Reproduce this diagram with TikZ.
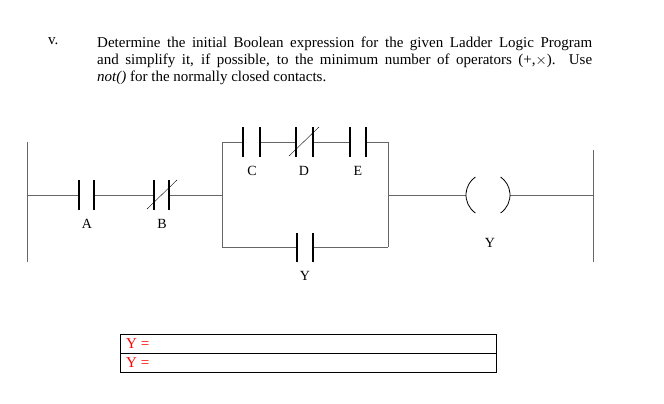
\documentclass[tikz,border=0pt]{standalone}
\usepackage{fontspec}
\setmainfont{Liberation Serif}
\begin{document}
\begin{tikzpicture}[x=1pt,y=-1pt,
  wire/.style={draw=gray!80!black,line width=1pt},
  plate/.style={draw=black,line width=2pt},
  lbl/.style={font=\fontsize{14}{16}\selectfont,inner sep=0pt}]
\useasboundingbox (0,0) rectangle (664,404);
\node[anchor=north west,inner sep=0pt,font=\fontsize{15}{17}\selectfont] (num) at (48,37) {v.};
\node[anchor=north west,inner sep=0pt,text width=495pt,align=justify,font=\fontsize{15}{17}\selectfont] (txt) at (97,37)
 {Determine the initial Boolean expression for the given Ladder Logic Program\linebreak and simplify it, if possible, to the minimum number of operators (+,$\times$). Use\linebreak \textit{not()} for the normally closed contacts.};
% rails
\coordinate (L1) at (27,142); \coordinate (L2) at (27,262);
\coordinate (R1) at (593,150); \coordinate (R2) at (593,262);
\draw[wire] (L1)--(L2); \draw[wire] (R1)--(R2);
% main line
\coordinate (m0) at (27,195); \coordinate (a1) at (79,195); \coordinate (a2) at (94,195);
\coordinate (b1) at (154,195); \coordinate (b2) at (169,195);
\coordinate (jl) at (222,195); \coordinate (jr) at (388,195);
\coordinate (k1) at (466,195); \coordinate (k2) at (510,195);
\draw[wire] (m0)--(a1) (a2)--(b1) (b2)--(jl) (jr)--(k1) (k2)--(593,195);
\draw[plate] (79,180)--(79,210) (94,180)--(94,210) (154,180)--(154,210) (169,180)--(169,210);
\draw[thin] (147,209)--(177,180);
% branch
\coordinate (tl) at (222,142); \coordinate (tr) at (388,142);
\coordinate (bl) at (222,247); \coordinate (br) at (388,247);
\draw[wire] (tl)--(bl) (tr)--(br);
\draw[wire] (tl)--(243,142) (260,142)--(296,142) (313,142)--(350,142) (366,142)--(tr);
\draw[plate] (243,127)--(243,157) (260,127)--(260,157) (296,127)--(296,157) (313,127)--(313,157) (350,127)--(350,157) (366,127)--(366,157);
\draw[thin] (289,156)--(319,127);
\draw[wire] (bl)--(297,247) (313,247)--(br);
\draw[plate] (297,233)--(297,262) (313,233)--(313,262);
% coil
\draw[wire,draw=black,line width=0.8pt] (488,195) ++(125:22) arc (125:235:22);
\draw[wire,draw=black,line width=0.8pt] (488,195) ++(55:22) arc (55:-55:22);
\node[lbl] (A) at (87,224) {A};
\node[lbl] (B) at (162,224) {B};
\node[lbl] (C) at (252,171) {C};
\node[lbl] (D) at (304,171) {D};
\node[lbl] (E) at (358,171) {E};
\node[lbl] (Yc) at (305,276) {Y};
\node[lbl] (Yo) at (490,243) {Y};
% answer boxes
\draw[line width=0.8pt] (120,334) rectangle (496,372) (120,353)--(496,353);
\node[anchor=west,inner sep=0pt,text=red,font=\fontsize{15}{16}\selectfont] (y1) at (126,344) {Y =};
\node[anchor=west,inner sep=0pt,text=red,font=\fontsize{15}{16}\selectfont] (y2) at (126,363) {Y =};
\end{tikzpicture}
\end{document}
